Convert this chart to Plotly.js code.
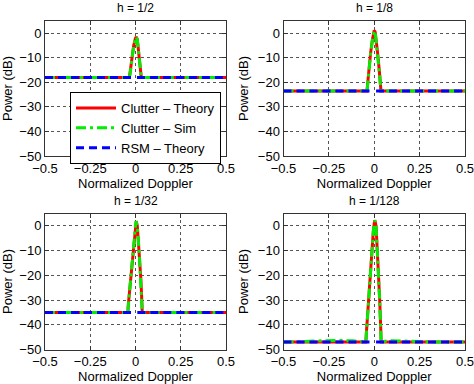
<!DOCTYPE html>
<html>
<head>
<meta charset="utf-8">
<script src="https://cdn.plot.ly/plotly-3.0.1.min.js"></script>
<style>html,body{margin:0;padding:0;background:#fff}#chart{width:474px;height:384px}</style>
</head>
<body>
<div id="chart"></div>
<script>
// ---- data ----
const panelTitles = ["h = 1/2", "h = 1/8", "h = 1/32", "h = 1/128"];
const xTickVals = [-0.5, -0.25, 0, 0.25, 0.5];
const xTickText = ["\u22120.5", "\u22120.25", "0", "0.25", "0.5"];
const yTickVals = [0, -10, -20, -30, -40, -50];

// h = 1/2
const theoryX1 = [-0.5, -0.034, -0.03, -0.02, -0.01, 0, 0.004, 0.01, 0.02, 0.03, 0.032, 0.5];
const theoryY1 = [-18, -18, -16, -10.5, -5, -2, -1.5, -2.5, -8.5, -16, -18, -18];
const simX1 = [-0.5, -0.034, -0.03, -0.02, -0.01, 0, 0.004, 0.01, 0.02, 0.03, 0.032, 0.5];
const simY1 = [-18, -18, -16.5, -10.5, -5.2, -2.1, -1.5, -2.7, -8.8, -16.2, -18, -18];
const rsmX1 = [-0.5, -0.008, null, 0.008, 0.5];
const rsmY1 = [-18, -18, null, -18, -18];

// h = 1/8
const theoryX2 = [-0.5, -0.04, -0.037, -0.03, -0.02, -0.01, 0, 0.005, 0.01, 0.02, 0.03, 0.035, 0.037, 0.5];
const theoryY2 = [-23.5, -23.5, -21, -15, -8, -2.5, 1.2, 0.5, -2.5, -9, -17, -22, -23.5, -23.5];
const simX2 = [-0.5, -0.04, -0.037, -0.03, -0.02, -0.01, 0, 0.005, 0.01, 0.02, 0.03, 0.035, 0.037, 0.5];
const simY2 = [-23.5, -23.5, -21.5, -15.2, -8.3, -2.6, 1.0, 0.4, -2.8, -9.2, -17.3, -22.2, -23.5, -23.5];
const rsmX2 = [-0.5, -0.01, null, 0.01, 0.5];
const rsmY2 = [-23.5, -23.5, null, -23.5, -23.5];

// h = 1/32
const theoryX3 = [-0.5, -0.042, -0.04, -0.03, -0.02, -0.01, 0, 0.004, 0.01, 0.02, 0.03, 0.036, 0.037, 0.5];
const theoryY3 = [-35, -35, -32, -24, -15, -6, 0.5, 1.9, 0, -10, -22, -32, -35, -35];
const simX3 = [-0.5, -0.042, -0.04, -0.03, -0.02, -0.01, 0, 0.004, 0.01, 0.02, 0.03, 0.036, 0.037, 0.5];
const simY3 = [-35, -35, -32.5, -24.3, -15.2, -6.2, 0.3, 1.8, -0.2, -10.3, -22.4, -32.3, -35, -35];
const rsmX3 = [-0.5, -0.01, null, 0.01, 0.5];
const rsmY3 = [-35, -35, null, -35, -35];

// h = 1/128
const theoryX4 = [-0.5, -0.046, -0.044, -0.035, -0.025, -0.015, -0.005, 0, 0.003, 0.01, 0.02, 0.03, 0.036, 0.038, 0.5];
const theoryY4 = [-47, -47, -44, -34, -22, -11, -2, 1, 2.3, 0, -13, -30, -42, -47, -47];
const simX4 = [-0.5, -0.4, -0.3, -0.2, -0.12, -0.05, -0.046, -0.044, -0.035, -0.025, -0.015, -0.005, 0, 0.003, 0.01, 0.02, 0.03, 0.036, 0.038, 0.08, 0.15, 0.25, 0.35, 0.5];
const simY4 = [-47, -46.8, -46.6, -46.3, -46.5, -46.8, -47, -44.3, -34.2, -22.3, -11.2, -2.2, 0.9, 2.2, -0.2, -13.2, -30.3, -42.2, -47, -46.4, -46.6, -46.8, -47, -47];
const rsmX4 = [-0.5, -0.01, null, 0.01, 0.5];
const rsmY4 = [-47, -47, null, -47, -47];

const panels = [
  {tx: theoryX1, ty: theoryY1, sx: simX1, sy: simY1, rx: rsmX1, ry: rsmY1},
  {tx: theoryX2, ty: theoryY2, sx: simX2, sy: simY2, rx: rsmX2, ry: rsmY2},
  {tx: theoryX3, ty: theoryY3, sx: simX3, sy: simY3, rx: rsmX3, ry: rsmY3},
  {tx: theoryX4, ty: theoryY4, sx: simX4, sy: simY4, rx: rsmX4, ry: rsmY4}
];

// ---- figure ----
const W = 474, H = 384;
const xDomains = [[45 / W, 226 / W], [283.5 / W, 465 / W]];
const yDomains = [[1 - 156 / H, 1 - 21 / H], [1 - 349.5 / H, 1 - 213.5 / H]];
const font = {family: "Liberation Sans, Arial, sans-serif", size: 13, color: "#000"};

const traces = [];
const layout = {
  width: W, height: H,
  margin: {l: 0, r: 0, t: 0, b: 0},
  paper_bgcolor: "#fff", plot_bgcolor: "#fff",
  font: font,
  showlegend: true,
  legend: {
    x: 70 / W, y: 1 - 92 / H, xanchor: "left", yanchor: "top",
    bgcolor: "#fff", bordercolor: "#000", borderwidth: 1,
    font: {family: font.family, size: 13, color: "#000"},
    tracegroupgap: 0, itemwidth: 40
  },
  annotations: []
};

panels.forEach((p, i) => {
  const col = i % 2, row = Math.floor(i / 2);
  const n = i === 0 ? "" : String(i + 1);
  const xa = "x" + n, ya = "y" + n;
  const show = i === 0;
  traces.push({x: p.tx, y: p.ty, xaxis: xa, yaxis: ya, mode: "lines", name: "Clutter \u2013 Theory",
    line: {color: "#ff0000", width: 3}, showlegend: show});
  traces.push({x: p.sx, y: p.sy, xaxis: xa, yaxis: ya, mode: "lines", name: "Clutter \u2013 Sim",
    line: {color: "#00ee00", width: 3, dash: "10px,4px,3px,4px"}, showlegend: show});
  traces.push({x: p.rx, y: p.ry, xaxis: xa, yaxis: ya, mode: "lines", name: "RSM \u2013 Theory",
    line: {color: "#0000ff", width: 3, dash: "8px,5px"}, showlegend: show, connectgaps: false});

  const axCommon = {
    showline: true, linecolor: "#333", linewidth: 1, mirror: "ticks",
    ticks: "inside", ticklen: 4, tickcolor: "#333",
    showgrid: true, gridcolor: "#555", griddash: "dot", gridwidth: 1,
    zeroline: false, ticklabeloverflow: "allow",
    tickfont: {family: font.family, size: 13, color: "#000"}
  };
  layout["xaxis" + n] = Object.assign({}, axCommon, {
    domain: xDomains[col], anchor: ya, range: [-0.5, 0.5],
    tickmode: "array", tickvals: xTickVals, ticktext: xTickText,
    title: {text: "Normalized Doppler", font: {family: font.family, size: 13, color: "#000"}, standoff: 2}
  });
  layout["yaxis" + n] = Object.assign({}, axCommon, {
    domain: yDomains[row], anchor: xa, range: [-50, 5],
    tickmode: "array", tickvals: yTickVals,
    title: {text: "Power (dB)", font: {family: font.family, size: 13, color: "#000"}, standoff: 6}
  });
  layout.annotations.push({
    text: panelTitles[i], showarrow: false,
    xref: "paper", yref: "paper",
    x: (xDomains[col][0] + xDomains[col][1]) / 2, y: yDomains[row][1] + 4 / H,
    xanchor: "center", yanchor: "bottom",
    font: {family: font.family, size: 12, color: "#000"}
  });
});

Plotly.newPlot("chart", traces, layout, {displayModeBar: false, staticPlot: true});
</script>
</body>
</html>
